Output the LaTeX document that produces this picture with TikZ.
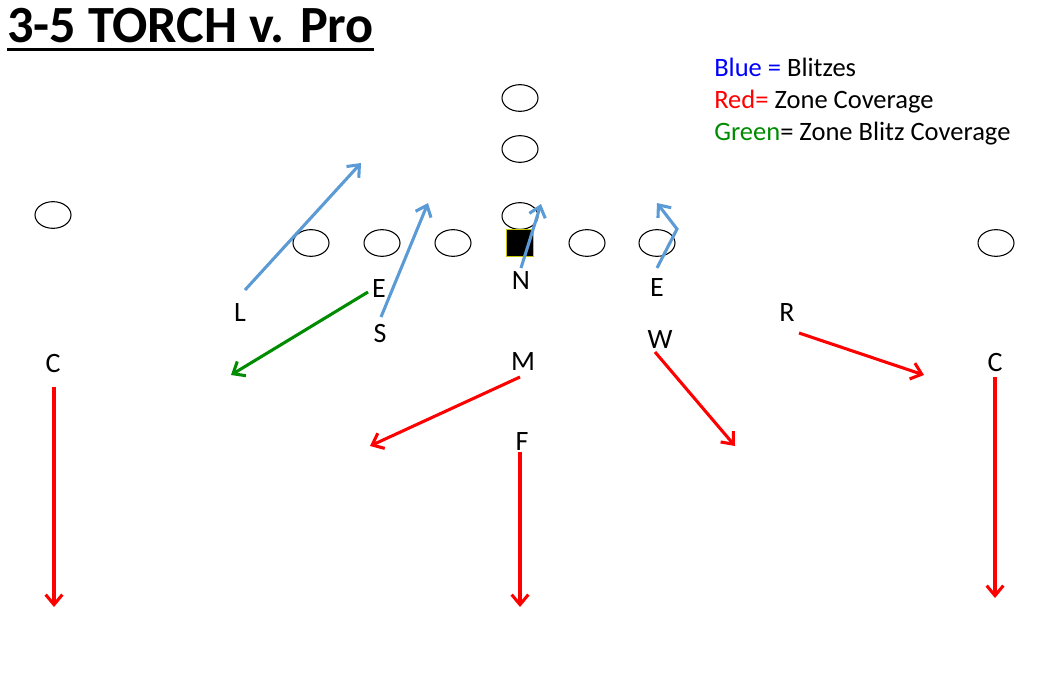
\documentclass[tikz,border=0pt]{standalone}
\usepackage{fontspec}
\setmainfont{Carlito}
\usetikzlibrary{arrows.meta,shapes.geometric}
\definecolor{blz}{RGB}{91,155,213}
\definecolor{zred}{RGB}{255,0,0}
\definecolor{zgreen}{RGB}{0,140,0}
\definecolor{lblue}{RGB}{0,0,255}
\definecolor{sqborder}{RGB}{200,200,0}
\begin{document}
\begin{tikzpicture}[x=0.75pt,y=-0.75pt,
  offp/.style={draw=black, fill=white, ellipse, line width=0.8pt, minimum width=27pt, minimum height=20pt, inner sep=0pt},
  ctr/.style={draw=sqborder, fill=black, rectangle, line width=1pt, minimum size=20pt, inner sep=0pt},
  defl/.style={font=\fontsize{21}{25}\selectfont, inner sep=0pt},
  legl/.style={font=\fontsize{19.9}{24}\selectfont, inner sep=0pt, anchor=base west},
  mv/.style={line width=2.3pt, -{Straight Barb[length=7.5pt,width=12.5pt,line width=2.3pt]}},
  blitz/.style={mv, draw=blz},
  zone/.style={mv, draw=zred},
  zblitz/.style={mv, draw=zgreen}]
\useasboundingbox (0,0) rectangle (1056,678);
\fill[white] (0,0) rectangle (1056,678);

% title
\node[anchor=base west, inner sep=0pt, font=\fontsize{39.2}{44}\selectfont\bfseries] (title) at (7,42) {3-5 TORCH v. Pro};
\draw[line width=2.6pt] ([yshift=-5.5pt]title.base west) -- ([yshift=-5.5pt]title.base east);

% legend
\node[legl] (lg1) at (714,76.5) {\textcolor{lblue}{Blue =} Blitzes};
\node[legl] (lg2) at (714,108.5) {\textcolor{zred}{Red=} Zone Coverage};
\node[legl] (lg3) at (714,140) {\textcolor{zgreen}{Green}= Zone Blitz Coverage};

% offense
\node[offp] (rb2) at (520,98) {};
\node[offp] (rb1) at (520,149) {};
\node[offp] (qb) at (520,216) {};
\node[offp] (wrl) at (53,215) {};
\node[offp] (lt) at (311,243) {};
\node[offp] (lg) at (382,243) {};
\node[offp] (lgu) at (453,243) {};
\node[ctr] (c) at (520,243) {};
\node[offp] (rgu) at (587,243) {};
\node[offp] (rt) at (657,243) {};
\node[offp] (wrr) at (996,243) {};

% defense
\node[defl] (L) at (240,313) {L};
\node[defl] (E1) at (379,289) {E};
\node[defl] (S) at (380,334) {S};
\node[defl] (N) at (521,281) {N};
\node[defl] (E2) at (657,288) {E};
\node[defl] (W) at (660,340) {W};
\node[defl] (R) at (787,313) {R};
\node[defl] (C1) at (53,364) {C};
\node[defl] (M) at (523,362) {M};
\node[defl] (F) at (522,442) {F};
\node[defl] (C2) at (995,363) {C};

% arrow points
\coordinate (Ls) at (245,290); \coordinate (Le) at (361,163);
\coordinate (Ss) at (381,317); \coordinate (Se) at (428,203);
\coordinate (Ns) at (521,268); \coordinate (Ne) at (541,204);
\coordinate (E2s) at (657,268); \coordinate (E2m) at (677,229); \coordinate (E2e) at (657,203);
\coordinate (E1s) at (368,292); \coordinate (E1e) at (231,375);
\coordinate (Ms) at (520,377); \coordinate (Me) at (370,446);
\coordinate (Ws) at (655,352); \coordinate (We) at (735,446);
\coordinate (Rs) at (799,333); \coordinate (Re) at (924,375);
\coordinate (Fs) at (520,452); \coordinate (Fe) at (520,607);
\coordinate (C1s) at (54,387); \coordinate (C1e) at (54,607);
\coordinate (C2s) at (995,377); \coordinate (C2e) at (995,598);

% blitzes
\draw[blitz] (Ls) -- (Le);
\draw[blitz] (Ss) -- (Se);
\draw[blitz] (Ns) -- (Ne);
\draw[blitz] (E2s) -- (E2m) -- (E2e);
% zone blitz
\draw[zblitz] (E1s) -- (E1e);
% zones
\draw[zone] (Ms) -- (Me);
\draw[zone] (Ws) -- (We);
\draw[zone] (Rs) -- (Re);
\draw[zone] (Fs) -- (Fe);
\draw[zone] (C1s) -- (C1e);
\draw[zone] (C2s) -- (C2e);
\end{tikzpicture}
\end{document}
